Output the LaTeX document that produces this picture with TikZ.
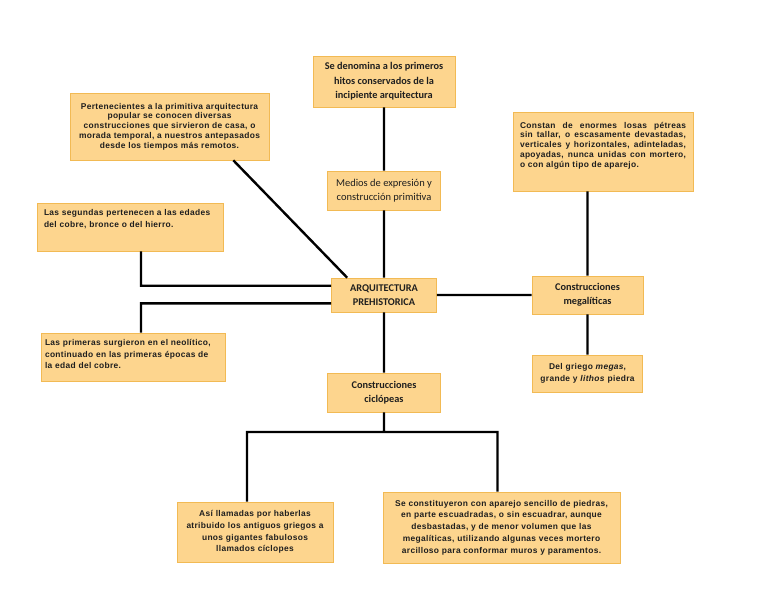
\documentclass[tikz,border=0pt]{standalone}
\usepackage{fontspec}
\setmainfont{Liberation Sans}
\newfontfamily\titlefont{Carlito}
\newfontfamily\descfont{Liberation Sans}[LetterSpace=4]
\hyphenpenalty=10000
\definecolor{cajafondo}{RGB}{253,213,142}
\definecolor{cajaborde}{RGB}{242,186,84}
\tikzset{
  caja/.style={draw=cajaborde, fill=cajafondo, line width=0.6pt, inner sep=0pt, text=black!88},
  titulo/.style={caja, align=center, font=\titlefont\bfseries\fontsize{10.3}{14.5}\selectfont},
  nota/.style={caja, font=\descfont\bfseries\fontsize{8.4}{11.7}\selectfont},
  enlace/.style={line width=2.4pt}
}
\begin{document}
\begin{tikzpicture}[x=1pt, y=-1pt]
  \useasboundingbox (0,0) rectangle (768,594);

  \node [titulo, minimum width=142pt, minimum height=51pt] (hitos) at (384,81.5)
    {Se denomina a los primeros\\hitos conservados de la\\incipiente arquitectura};
  \node [nota, font=\descfont\bfseries\fontsize{8.4}{9.7}\selectfont, align=center,
    text width=192pt, minimum width=199pt, minimum height=67pt] (popular) at (169.5,126.5)
    {Pertenecientes a la primitiva arquitectura\\popular se conocen diversas\\construcciones que sirvieron de casa, o\\morada temporal, a nuestros antepasados\\desde los tiempos más remotos.};
  \node [nota, font=\descfont\bfseries\fontsize{8.4}{9.7}\selectfont, align=justify,
    text width=166pt, minimum width=180pt, minimum height=79pt] (losas) at (603,151.5)
    {Constan de enormes losas pétreas\linebreak sin tallar, o escasamente devastadas,\linebreak verticales y horizontales, adinteladas,\linebreak apoyadas, nunca unidas con mortero,\linebreak o con algún tipo de aparejo.\par\vspace*{12pt}};
  \node [nota, align=left, text width=172pt, minimum width=186pt, minimum height=48pt] (segundas) at (130,227)
    {Las segundas pertenecen a las edades\\del cobre, bronce o del hierro.\par\vspace*{16pt}};
  \node [titulo, font=\titlefont\fontsize{10.5}{14.5}\selectfont,
    minimum width=113pt, minimum height=39pt] (medios) at (384,190.5)
    {Medios de expresión y\\construcción primitiva};
  \node [titulo, minimum width=105pt, minimum height=34pt] (arq) at (384,295)
    {ARQUITECTURA\\PREHISTORICA};
  \node [titulo, minimum width=111pt, minimum height=38pt] (megaliticas) at (587.5,295)
    {Construcciones\\megalíticas};
  \node [nota, align=center, text width=106pt, minimum width=110pt, minimum height=37pt] (griego) at (587.5,373.5)
    {Del griego \textit{megas},\\grande y \textit{lithos} piedra};
  \node [nota, align=left, text width=176pt, minimum width=184pt, minimum height=48pt] (primeras) at (133,357)
    {Las primeras surgieron en el neolítico,\\continuado en las primeras épocas de\\la edad del cobre.\par\vspace*{6pt}};
  \node [titulo, minimum width=113pt, minimum height=39pt] (ciclopeas) at (384,392.5)
    {Construcciones\\ciclópeas};
  \node [nota, align=center, text width=152pt, minimum width=156pt, minimum height=60pt] (asi) at (255,532)
    {Así llamadas por haberlas\\atribuido los antiguos griegos a\\unos gigantes fabulosos\\llamados cíclopes};
  \node [nota, align=center, text width=233pt, minimum width=237pt, minimum height=71pt] (cons) at (501.5,527.5)
    {Se constituyeron con aparejo sencillo de piedras,\\en parte escuadradas, o sin escuadrar, aunque\\desbastadas, y de menor volumen que las\\megalíticas, utilizando algunas veces mortero\\arcilloso para conformar muros y paramentos.};

  \coordinate (split) at (384,432);

  \draw [enlace]
    (hitos) -- (medios)
    (medios) -- (arq)
    ([xshift=-36pt]popular.south east) -- ([xshift=16pt]arq.north west)
    ([xshift=11pt]segundas.south) |- ([yshift=-8pt]arq.north west)
    ([yshift=9pt]arq.south west) -| ([xshift=8pt]primeras.north)
    (arq) -- (megaliticas)
    (megaliticas.north |- losas.south) -- (megaliticas.north)
    (megaliticas) -- (griego)
    (arq) -- (ciclopeas)
    (ciclopeas) -- (split)
    ([xshift=-8pt]asi.north) |- (split) -| ([xshift=-4pt]cons.north)
    ;
\end{tikzpicture}
\end{document}
